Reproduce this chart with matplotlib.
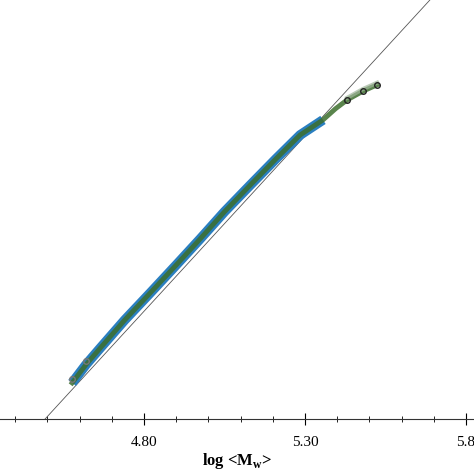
import numpy as np
from matplotlib import pyplot as plt

plt.rcParams['font.family'] = 'Liberation Serif'

# curve (log Mw vs fitted value)
x_fit = [4.577, 4.620, 4.664, 4.740, 4.819, 4.900, 4.974, 5.050, 5.130, 5.210, 5.285, 5.356, 5.395, 5.431, 5.480, 5.524]
y_fit = [4.596, 4.648, 4.695, 4.775, 4.852, 4.932, 5.006, 5.084, 5.160, 5.235, 5.303, 5.346, 5.378, 5.403, 5.428, 5.446]
blue_n = 12  # blue trace ends earlier than the others

fig = plt.figure(figsize=(4.74, 4.74), dpi=100)
ax = fig.add_axes([0, 55 / 474, 1, 419 / 474])
ax.set_xlim(4.353, 5.825)
ax.set_ylim(4.493, 5.688)

ax.plot([4.3, 5.9], [4.3, 5.9], color='#555555', lw=0.6)
ax.plot(x_fit[:blue_n], y_fit[:blue_n], color='#2a7fc0', lw=7, solid_capstyle='butt')
ax.plot(x_fit, y_fit, color='#3c6e2c', lw=3.5, alpha=0.85)
ax.plot(x_fit[-3:], np.array(y_fit[-3:]) + 0.006, color='#9fb59a', lw=3, alpha=0.7)
ax.plot(x_fit[-3:], np.array(y_fit[-3:]), 'o', mfc='none', mec='#222222', ms=4, mew=1)
ax.plot(x_fit[:2], np.array(y_fit[:2]) + 0.01, 'o', mfc='none', mec='#777777', ms=4, mew=1)

for s in ['left', 'right', 'top']:
    ax.spines[s].set_visible(False)
ax.spines['bottom'].set_color('#333333')
ax.set_yticks([])
ax.set_xticks([4.80, 5.30, 5.80])
ax.set_xticklabels(['4.80', '5.30', '5.8'])
ax.set_xticks(np.arange(4.4, 5.85, 0.1), minor=True)
ax.tick_params(axis='x', which='major', direction='inout', length=8, labelsize=11, pad=8)
ax.tick_params(axis='x', which='minor', direction='inout', length=5)
ax.set_xlabel('log <M$_\\mathregular{w}$>', fontweight='bold', fontsize=12, labelpad=2)

fig.savefig('out.png', dpi=100)
